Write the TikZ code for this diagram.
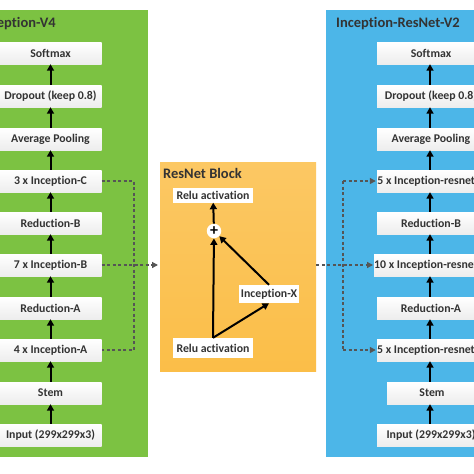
\documentclass[tikz,border=0pt]{standalone}
\usepackage{fontspec}
\setmainfont{Carlito}[Ligatures=NoCommon]
\usetikzlibrary{arrows.meta}
\definecolor{gpanel}{RGB}{124,194,66}
\definecolor{bpanel}{RGB}{76,182,232}
\definecolor{opanel}{RGB}{251,190,72}
\definecolor{txt}{RGB}{51,51,51}
\definecolor{dashc}{RGB}{85,85,85}
\tikzset{
  panel/.style={draw=none, inner sep=0pt, anchor=north west},
  ptitle/.style={font=\bfseries\fontsize{14.5}{16}\selectfont, text=txt, anchor=west, inner sep=0pt},
  stagebox/.style={draw=none, top color=white, bottom color=gray!14, minimum width=102pt, minimum height=22pt, inner sep=0pt, font=\bfseries\fontsize{11.8}{13}\selectfont, text=txt},
  rstagebox/.style={stagebox, minimum width=108pt},
  inbox/.style={draw=none, fill=white, minimum width=80pt, minimum height=17pt, inner sep=2pt, font=\bfseries\fontsize{11.8}{13}\selectfont, text=txt},
  arr/.style={draw=black, line width=2pt, -{Triangle[length=6.5pt,width=7pt]}},
  dsh/.style={draw=dashc, line width=1.3pt, dash pattern=on 3pt off 2.5pt},
  dsharr/.style={dsh, -{Triangle[length=6pt,width=6pt]}},
}
\begin{document}
\begin{tikzpicture}[x=1pt,y=-1pt]
\useasboundingbox (0,0) rectangle (474,474);
\clip (0,0) rectangle (474,474);
\fill[white] (0,0) rectangle (474,474);
% panels
\node[panel, fill=gpanel, minimum width=176pt, minimum height=447pt] (gp) at (-28,10) {};
\node[panel, fill=bpanel, minimum width=176pt, minimum height=447pt] (bp) at (326,10) {};
\node[panel, top color=opanel!85!white, bottom color=opanel, minimum width=156pt, minimum height=209pt] (res) at (160,162) {};
% titles
\node[ptitle] (t1) at (-21,24) {Inception-V4};
\node[ptitle] (t2) at (336,24) {Inception-ResNet-V2};
\node[ptitle] (t3) at (163,173) {ResNet Block};
% left column
\node[stagebox] (lsm) at (50.5,53) {Softmax};
\node[stagebox] (ldo) at (50.5,96) {Dropout (keep 0.8)};
\node[stagebox] (lap) at (50.5,139) {Average Pooling};
\node[stagebox] (lic) at (50.5,181) {3 x Inception-C};
\node[stagebox] (lrb) at (50.5,223) {Reduction-B};
\node[stagebox] (lib) at (50.5,265) {7 x Inception-B};
\node[stagebox] (lra) at (50.5,308) {Reduction-A};
\node[stagebox] (lia) at (50.5,350) {4 x Inception-A};
\node[stagebox] (lst) at (50.5,393) {Stem};
\node[stagebox] (lin) at (50.5,435) {Input (299x299x3)};
% right column
\node[rstagebox] (rsm) at (431,53) {Softmax};
\node[rstagebox] (rdo) at (431,96) {Dropout (keep 0.8)};
\node[rstagebox] (rap) at (431,139) {Average Pooling};
\node[rstagebox] (ric) at (431,181) {5 x Inception-resnet-C};
\node[rstagebox] (rrb) at (431,223) {Reduction-B};
\node[rstagebox] (rib) at (431,265) {10 x Inception-resnet-B};
\node[rstagebox] (rra) at (431,308) {Reduction-A};
\node[rstagebox] (ria) at (431,350) {5 x Inception-resnet-A};
\node[stagebox, minimum width=90pt] (rst) at (432,393) {Stem};
\node[rstagebox] (rin) at (431,435) {Input (299x299x3)};
% column arrows
\foreach \a/\b in {lin/lst, lst/lia, lia/lra, lra/lib, lib/lrb, lrb/lic, lic/lap, lap/ldo, ldo/lsm}
  \draw[arr] (\a.north) -- (\b.south);
\foreach \a/\b in {rin/rst, rst/ria, ria/rra, rra/rib, rib/rrb, rrb/ric, ric/rap, rap/rdo, rdo/rsm}
  \draw[arr] (\a.north -| 430,0) -- (\b.south -| 430,0);
% ResNet block
\node[inbox, minimum height=15pt] (r2) at (213,195) {Relu activation};
\node[circle, fill=white, minimum size=14.5pt, inner sep=0pt, font=\bfseries\fontsize{16}{16}\selectfont] (plus) at (214,231) {+};
\node[inbox, minimum width=58pt, minimum height=18pt] (ix) at (269,294) {Inception-X};
\node[inbox, minimum height=20pt] (r1) at (213,348) {Relu activation};
\draw[arr] (plus) -- (r2);
\draw[arr] (r1.north) -- (plus);
\draw[arr] (r1.north) -- (ix.south);
\draw[arr] (ix.north) -- (plus);
% dashed connectors left
\coordinate (lc) at (134,181);
\coordinate (la) at (134,350);
\draw[dsh] (lic.east) -- (lc) -- (la) -- (lia.east);
\draw[dsharr] (lib.east) -- ([xshift=-2pt]lib.east -| res.west);
% dashed connectors right
\coordinate (rc) at (343,181);
\coordinate (ra) at (343,350);
\draw[dsh] (rc) -- (ra);
\draw[dsharr] (rc) -- ([xshift=-1pt]ric.west);
\draw[dsharr] (ra) -- ([xshift=-1pt]ria.west);
\draw[dsharr] (res.east |- rib.west) -- ([xshift=-1pt]rib.west);
\end{tikzpicture}
\end{document}
